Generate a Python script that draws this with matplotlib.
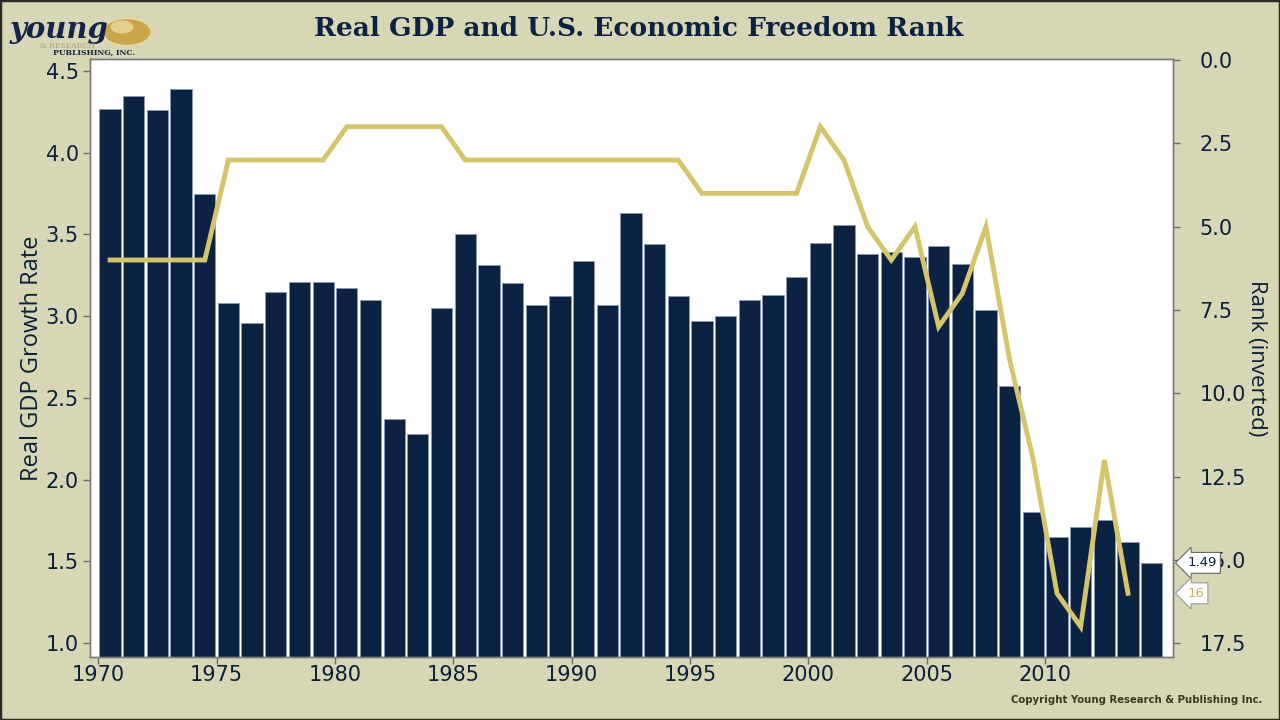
import matplotlib
matplotlib.use("Agg")
import matplotlib.pyplot as plt
import matplotlib.transforms as mtransforms
from matplotlib.patches import Rectangle, Circle
import numpy as np

# ---- data ----
years = list(range(1970, 2015))
gdp_growth = [4.27, 4.345, 4.26, 4.39, 3.75, 3.08, 2.96, 3.15, 3.21, 3.21,
              3.17, 3.10, 2.37, 2.28, 3.05, 3.50, 3.31, 3.20, 3.07, 3.12,
              3.34, 3.07, 3.63, 3.44, 3.12, 2.97, 3.00, 3.10, 3.13, 3.24,
              3.45, 3.56, 3.38, 3.39, 3.36, 3.43, 3.32, 3.04, 2.57, 1.80,
              1.65, 1.71, 1.75, 1.62, 1.49]
rank_years = list(range(1970, 2014))
freedom_rank = [6, 6, 6, 6, 6, 3, 3, 3, 3, 3,
                2, 2, 2, 2, 2, 3, 3, 3, 3, 3,
                3, 3, 3, 3, 3, 4, 4, 4, 4, 4,
                2, 3, 5, 6, 5, 8, 7, 5, 9, 12,
                16, 17, 12, 16]
x_ticks = [1970, 1975, 1980, 1985, 1990, 1995, 2000, 2005, 2010]
left_ticks = [1.0, 1.5, 2.0, 2.5, 3.0, 3.5, 4.0, 4.5]
right_ticks = [0.0, 2.5, 5.0, 7.5, 10.0, 12.5, 15.0, 17.5]

BG = "#d7d6b5"
NAVY = "#0b2242"
GOLD = "#d4c46c"
TXT = "#0b1f3a"

fig = plt.figure(figsize=(12.8, 7.2), dpi=100, facecolor=BG)
ax = fig.add_axes([0.0703, 0.0875, 0.9164 - 0.0703, 0.918 - 0.0875])
ax.set_facecolor("white")

xb = np.array(years) + 0.5
ax.bar(xb, gdp_growth, width=0.9, color=NAVY, edgecolor="#8a9ab5", linewidth=0.6, zorder=2)
ax.set_xlim(1969.65, 2015.4)
ax.set_ylim(0.914, 4.573)
ax.set_xticks(x_ticks)
ax.set_xticklabels([str(t) for t in x_ticks])
ax.set_yticks(left_ticks)
ax.set_yticklabels([f"{t:.1f}" for t in left_ticks])

ax2 = ax.twinx()
ax2.plot(np.array(rank_years) + 0.5, freedom_rank, color=GOLD, linewidth=3.5,
         solid_joinstyle="miter", zorder=3)
ax2.set_ylim(17.91, -0.03)
ax2.set_yticks(right_ticks)
ax2.set_yticklabels([f"{t:.1f}" for t in right_ticks])

for a in (ax, ax2):
    for s in a.spines.values():
        s.set_color("#7a7a7a")
        s.set_linewidth(1.0)
    a.tick_params(axis="both", colors="#6a6a6a", labelcolor=TXT, labelsize=15,
                  length=5, width=1, direction="out")
ax.tick_params(axis="x", pad=1)
ax.tick_params(axis="y", pad=3)
ax2.tick_params(axis="y", pad=14)

ax.set_ylabel("Real GDP Growth Rate", fontsize=17, color=TXT, family="Open Sans", labelpad=1)
ax2.set_ylabel("Rank (inverted)", fontsize=16, color=TXT, family="Open Sans",
               rotation=270, labelpad=15)

# end-value callouts (drawn above the right tick labels, as in the reference)
tr1 = mtransforms.blended_transform_factory(ax2.transAxes, ax.transData)
ax2.text(1.013, gdp_growth[-1], f"{gdp_growth[-1]:.2f}", transform=tr1, ha="left", va="center",
         fontsize=9.5, color=TXT, zorder=6, clip_on=False,
         bbox=dict(boxstyle="larrow,pad=0.3", fc="white", ec="#666666", lw=0.8))
tr2 = mtransforms.blended_transform_factory(ax2.transAxes, ax2.transData)
ax2.text(1.013, freedom_rank[-1], f"{freedom_rank[-1]}", transform=tr2, ha="left", va="center",
         fontsize=9.5, color="#c9b35c", zorder=6, clip_on=False,
         bbox=dict(boxstyle="larrow,pad=0.3", fc="white", ec="#999999", lw=0.8))

# title
fig.text(0.499, 0.961, "Real GDP and U.S. Economic Freedom Rank", ha="center", va="center",
         fontsize=19, fontweight="bold", color=NAVY, family="DejaVu Serif")

# logo
glob = Circle((127 / 1280, 1 - 32 / 720), 0.019, transform=fig.transFigure,
              facecolor="#c9a64a", edgecolor="#e8d9a0", lw=1.2, zorder=1)
fig.patches.append(glob)
glob2 = Circle((122 / 1280, 1 - 27 / 720), 0.009, transform=fig.transFigure,
               facecolor="#efe2b0", edgecolor="none", alpha=0.7, zorder=1)
fig.patches.append(glob2)
fig.text(10 / 1280, 1 - 30 / 720, "young", fontsize=21, fontstyle="italic", fontweight="bold",
         color="#13234a", family="DejaVu Serif", va="center", ha="left", zorder=3)
fig.text(40 / 1280, 1 - 46 / 720, "& RESEARCH", fontsize=5.5, color="#a8a080",
         family="DejaVu Serif", va="center", ha="left", zorder=3)
fig.text(53 / 1280, 1 - 53 / 720, "PUBLISHING, INC.", fontsize=5.5, fontweight="bold",
         color="#13234a", family="DejaVu Serif", va="center", ha="left", zorder=3)

# copyright
fig.text(0.986, 0.028, "Copyright Young Research & Publishing Inc.", ha="right", va="center",
         fontsize=7.3, fontweight="bold", color="#3b3a1e", family="DejaVu Sans")

# outer border
fig.patches.append(Rectangle((0, 0), 1, 1, transform=fig.transFigure, fill=False,
                             edgecolor="#2a2a2a", lw=2.5, zorder=10))

fig.savefig("out.png", dpi=100, facecolor=BG)
